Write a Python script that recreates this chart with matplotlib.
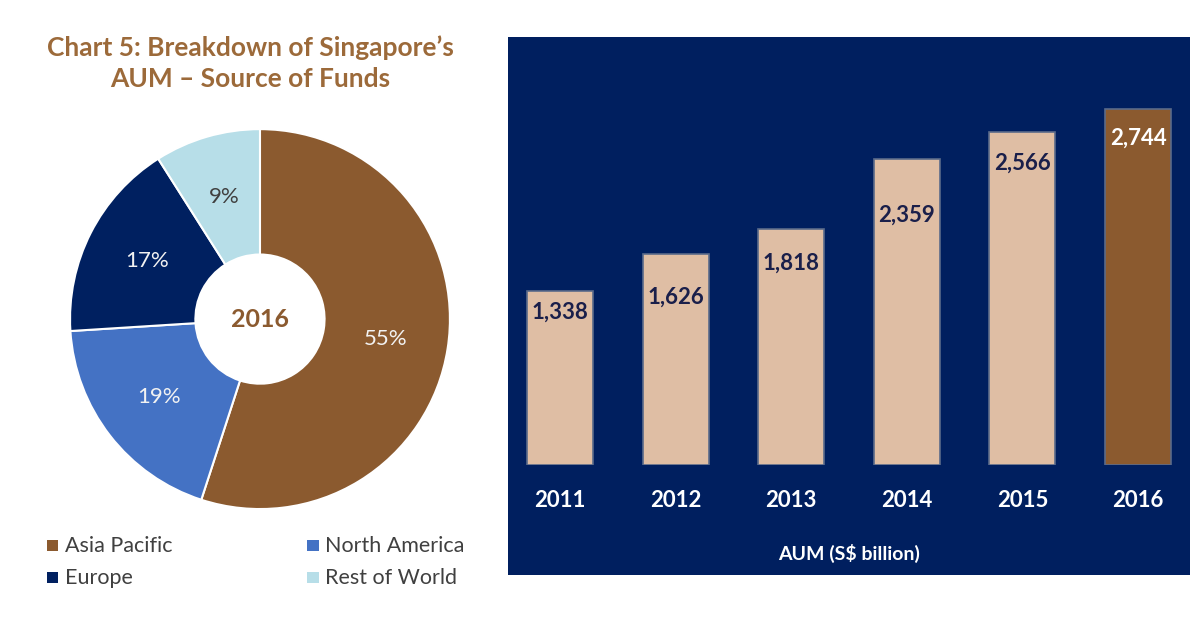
import matplotlib
matplotlib.use('Agg')

import matplotlib.pyplot as plt
from matplotlib.patches import Rectangle

# Dados do gráfico de rosca (2016)
regioes = ['Asia Pacific', 'North America', 'Europe', 'Rest of World']
participacao = [55, 19, 17, 9]
cores_rosca = ['#8B5A2F', '#4472C4', '#002060', '#B7DEE8']
cor_pct = ['#F2F2F2', '#F2F2F2', '#F2F2F2', '#404040']

# Dados do gráfico de barras
anos = ['2011', '2012', '2013', '2014', '2015', '2016']
aum = [1338, 1626, 1818, 2359, 2566, 2744]
rotulos_aum = ['1,338', '1,626', '1,818', '2,359', '2,566', '2,744']
# distância (px) do topo da barra ao centro do rótulo, como no original
desloc_rotulo = [21, 43, 34, 56, 31, 29]

marrom = '#8B5A2F'
marrom_titulo = '#9C6A3A'
azul_fundo = '#001F5F'
pessego = '#DFBEA4'

plt.rcParams['font.family'] = ['Lato', 'DejaVu Sans']

fig = plt.figure(figsize=(12, 6.3), dpi=100)
fig.patch.set_facecolor('white')

# Título
fig.text(0.2083, 0.925, 'Chart 5: Breakdown of Singapore\u2019s', ha='center', va='center',
         fontsize=19, fontweight='bold', color=marrom_titulo)
fig.text(0.2083, 0.875, 'AUM \u2013 Source of Funds', ha='center', va='center',
         fontsize=19, fontweight='bold', color=marrom_titulo)

# Rosca
ax1 = fig.add_axes([0.0583, 0.192, 0.3167, 0.603])
fatias, textos, pcts = ax1.pie(participacao, colors=cores_rosca, startangle=90, counterclock=False,
                               autopct='%.0f%%', pctdistance=0.67, radius=1,
                               wedgeprops=dict(width=0.66, edgecolor='white', linewidth=1.5))
for t, c in zip(pcts, cor_pct):
    t.set_color(c)
    t.set_fontsize(16)
ax1.set_xlim(-1.0, 1.0)
ax1.set_ylim(-1.0, 1.0)
ax1.text(0, 0, '2016', ha='center', va='center', fontsize=18, fontweight='bold', color=marrom)

# Legenda
pos_leg = [(0.039, 0.135), (0.256, 0.135), (0.039, 0.084), (0.256, 0.084)]
for (x, y), nome, cor in zip(pos_leg, regioes, cores_rosca):
    fig.patches.append(Rectangle((x, y - 0.0095), 0.0095, 0.018, transform=fig.transFigure,
                                 facecolor=cor, edgecolor='none'))
    fig.text(x + 0.015, y - 0.002, nome, ha='left', va='center', fontsize=15.5, color='#404040')

# Painel azul
fig.patches.append(Rectangle((0.4233, 0.0873), 0.5684, 0.854, transform=fig.transFigure,
                             facecolor=azul_fundo, edgecolor='none', zorder=-10))

ax2 = fig.add_axes([0.4233, 0.2619, 0.5684, 0.6175])
ax2.set_facecolor('none')
cores_barras = [pessego] * 5 + [marrom]
x = range(len(anos))
barras = ax2.bar(x, aum, width=0.57, color=cores_barras, edgecolor='#5A6A8A', linewidth=1.2)
for i, (b, r) in enumerate(zip(barras, rotulos_aum)):
    cor = 'white' if i == len(anos) - 1 else '#1A1F4A'
    ax2.annotate(r, (b.get_x() + b.get_width() / 2, b.get_height()),
                 xytext=(0, -desloc_rotulo[i] * 0.72), textcoords='offset points',
                 ha='center', va='center', fontsize=16, fontweight='bold', color=cor)
ax2.set_xlim(-0.45, 5.45)
ax2.set_ylim(0, 3000)
ax2.set_xticks(list(x))
ax2.set_xticklabels(anos, fontsize=16, fontweight='bold', color='white')
ax2.tick_params(axis='x', length=0, pad=18)
ax2.set_yticks([])
for s in ax2.spines.values():
    s.set_visible(False)
ax2.set_xlabel('AUM (S$ billion)', fontsize=14, fontweight='bold', color='white', labelpad=24)

fig.savefig('out.png', dpi=100, facecolor='white')
